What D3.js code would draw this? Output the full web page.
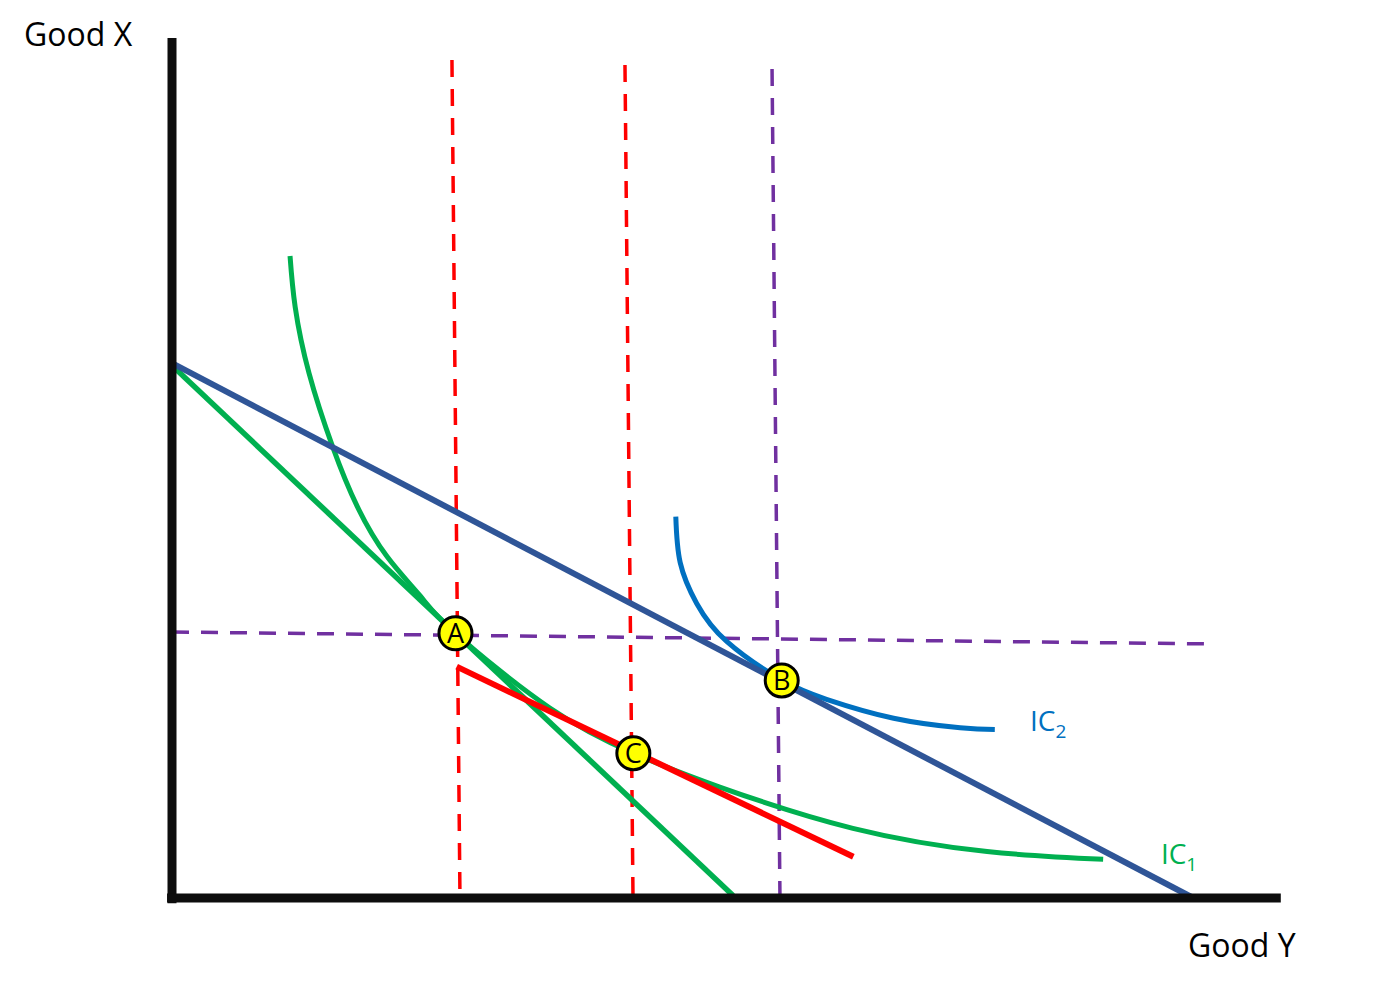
<!DOCTYPE html>
<html>
<head>
<meta charset="utf-8">
<script src="https://cdn.jsdelivr.net/npm/d3@7"></script>
<style>
  html, body { margin: 0; padding: 0; background: #ffffff; }
  svg { display: block; }
  text { font-family: "Open Sans", "Noto Sans", sans-serif; }
</style>
</head>
<body>
<svg id="chart" width="1382" height="990"></svg>
<script>
// ---- Data (abstract quantity units: Good Y on horizontal, Good X on vertical) ----
const axisLabels = ["Good X", "Good Y"];
const axisExtent = [100.8, 100];           // horizontal max, vertical max

const budgetBlue = [[0, 62.2], [92.85, 0]];
const budgetGreen = [[0.1, 61.8], [51.0, 0.3]];
const redLine = [[25.88, 26.9], [61.94, 4.8]];

const ic1 = [
  [10.73, 74.65], [11.2, 68.7], [12.45, 61.05], [14.6, 52.48], [16.85, 45.5],
  [19.55, 39.7], [22.55, 35.15], [25.77, 30.78], [34.35, 22.1], [41.94, 16.83],
  [49.8, 12.9], [61.9, 8.1], [74.1, 5.4], [84.65, 4.5]
];
const ic2 = [
  [45.8, 44.35], [46.2, 39.0], [47.7, 34.25], [50.45, 29.8],
  [55.43, 25.35], [59.5, 23.1], [65.6, 20.9], [71.65, 19.8], [74.8, 19.6]
];

const dashedRed = [
  [[25.45, 97.45], [26.18, 0]],
  [[41.18, 96.85], [41.91, 0]]
];
const dashedPurple = [
  [[54.55, 96.4], [55.27, 0]],
  [[0, 30.93], [94.1, 29.55]]
];

const pointNames = ["A", "C", "B"];
const pointValues = [[25.77, 30.78], [41.94, 16.83], [55.43, 25.3]];

const curveNames = ["IC", "IC"];
const curveSubs = ["2", "1"];
const curveLabelPos = [[78.0, 19.4], [89.9, 3.95]];

// ---- Scales ----
const svg = d3.select("#chart");
const x = d3.scaleLinear().domain([0, 100]).range([172, 1272]);
const y = d3.scaleLinear().domain([0, 100]).range([898, 38]);
const line = d3.line().x(d => x(d[0])).y(d => y(d[1]));
const smooth = d3.line().x(d => x(d[0])).y(d => y(d[1])).curve(d3.curveNatural);

// dashed guides
const dash = "17,12";
dashedRed.forEach(seg => {
  svg.append("path").attr("d", line(seg)).attr("fill", "none")
    .attr("stroke", "#FF0000").attr("stroke-width", 3.5).attr("stroke-dasharray", dash);
});
dashedPurple.forEach(seg => {
  svg.append("path").attr("d", line(seg)).attr("fill", "none")
    .attr("stroke", "#7030A0").attr("stroke-width", 3.5).attr("stroke-dasharray", dash);
});

// indifference curves
svg.append("path").attr("d", smooth(ic1)).attr("fill", "none")
  .attr("stroke", "#00B050").attr("stroke-width", 5);
svg.append("path").attr("d", smooth(ic2)).attr("fill", "none")
  .attr("stroke", "#0070C0").attr("stroke-width", 5);

// budget lines
svg.append("path").attr("d", line(budgetGreen)).attr("fill", "none")
  .attr("stroke", "#00B050").attr("stroke-width", 5.5);
svg.append("path").attr("d", line(redLine)).attr("fill", "none")
  .attr("stroke", "#FF0000").attr("stroke-width", 6);
svg.append("path").attr("d", line(budgetBlue)).attr("fill", "none")
  .attr("stroke", "#2F5597").attr("stroke-width", 6);

// axes
svg.append("path").attr("d", line([[0, axisExtent[1]], [0, -0.6]])).attr("fill", "none")
  .attr("stroke", "#0D0D0D").attr("stroke-width", 9);
svg.append("path").attr("d", line([[-0.45, 0], [axisExtent[0], 0]])).attr("fill", "none")
  .attr("stroke", "#0D0D0D").attr("stroke-width", 9);

// axis labels
svg.append("text").attr("x", 24).attr("y", 46).attr("font-size", 32).attr("fill", "#000")
  .text(axisLabels[0]);
svg.append("text").attr("x", 1188).attr("y", 957).attr("font-size", 32).attr("fill", "#000")
  .text(axisLabels[1]);

// curve labels
const labelColors = ["#0070C0", "#00B050"];
curveNames.forEach((n, i) => {
  const t = svg.append("text").attr("x", x(curveLabelPos[i][0])).attr("y", y(curveLabelPos[i][1]))
    .attr("font-size", 28).attr("fill", labelColors[i]);
  t.append("tspan").text(n);
  t.append("tspan").attr("font-size", 19).attr("dy", 7).text(curveSubs[i]);
});

// points
pointValues.forEach((p, i) => {
  svg.append("circle").attr("cx", x(p[0])).attr("cy", y(p[1])).attr("r", 16.5)
    .attr("fill", "#FFFF00").attr("stroke", "#000").attr("stroke-width", 3);
  svg.append("text").attr("x", x(p[0])).attr("y", y(p[1]) + 10).attr("text-anchor", "middle")
    .attr("font-size", 27).attr("fill", "#000").text(pointNames[i]);
});
</script>
</body>
</html>
